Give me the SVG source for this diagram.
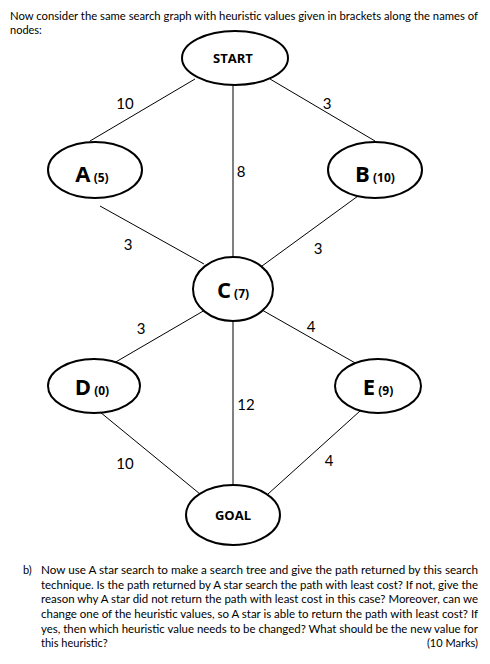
<svg xmlns="http://www.w3.org/2000/svg" width="490" height="664" viewBox="0 0 490 664">
<style>
text{font-family:Lato,"Open Sans","Liberation Sans",sans-serif;fill:#000}
.node ellipse{fill:#fff;stroke:#000;stroke-width:2}
.edges line{stroke:#000;stroke-width:1}
.node text{font-family:"Open Sans","Liberation Sans",sans-serif}
.big{font-size:22px;font-weight:bold}
.h{font-size:12px;font-weight:bold}
.nm{font-size:13px;font-weight:bold}
.w{font-size:15px}
.t{font-size:11px}
</style>
<rect width="490" height="664" fill="#fff"/>
<text class="t" x="10" y="20" textLength="468" lengthAdjust="spacingAndGlyphs">Now consider the same search graph with heuristic values given in brackets along the names of</text>
<text class="t" x="10" y="34">nodes:</text>
<g class="edges">
<line x1="195" y1="79" x2="90" y2="141"/>
<line x1="270" y1="79" x2="375" y2="141"/>
<line x1="233" y1="85" x2="233" y2="258"/>
<line x1="100" y1="206" x2="204" y2="264"/>
<line x1="358" y1="196" x2="262" y2="266"/>
<line x1="205" y1="310" x2="114" y2="363"/>
<line x1="262" y1="310" x2="357" y2="364"/>
<line x1="233" y1="321" x2="233" y2="485"/>
<line x1="100" y1="412" x2="200" y2="494"/>
<line x1="360" y1="411" x2="268" y2="494"/>
</g>
<g class="labels">
<text class="w" x="125" y="109" text-anchor="middle">10</text>
<text class="w" x="327" y="109" text-anchor="middle">3</text>
<text class="w" x="241" y="177" text-anchor="middle">8</text>
<text class="w" x="128" y="250" text-anchor="middle">3</text>
<text class="w" x="318" y="254" text-anchor="middle">3</text>
<text class="w" x="141" y="334" text-anchor="middle">3</text>
<text class="w" x="311" y="332" text-anchor="middle">4</text>
<text class="w" x="246" y="410" text-anchor="middle">12</text>
<text class="w" x="125" y="469" text-anchor="middle">10</text>
<text class="w" x="329" y="466" text-anchor="middle">4</text>
</g>
<g id="start" class="node"><ellipse cx="235" cy="58" rx="53" ry="27"/><text class="nm" x="233" y="63" text-anchor="middle">START</text></g>
<g id="a" class="node"><ellipse cx="95" cy="170" rx="47" ry="28"/><text x="92" y="182" text-anchor="middle"><tspan class="big">A</tspan><tspan class="h"> (5)</tspan></text></g>
<g id="b" class="node"><ellipse cx="375" cy="170" rx="47" ry="28"/><text x="375" y="182" text-anchor="middle"><tspan class="big">B</tspan><tspan class="h"> (10)</tspan></text></g>
<g id="c" class="node"><ellipse cx="233" cy="289" rx="40" ry="32"/><text x="233" y="298" text-anchor="middle"><tspan class="big">C</tspan><tspan class="h"> (7)</tspan></text></g>
<g id="d" class="node"><ellipse cx="94" cy="386" rx="46" ry="27"/><text x="92" y="395" text-anchor="middle"><tspan class="big">D</tspan><tspan class="h"> (0)</tspan></text></g>
<g id="e" class="node"><ellipse cx="378" cy="386" rx="43" ry="27"/><text x="378" y="395" text-anchor="middle"><tspan class="big">E</tspan><tspan class="h"> (9)</tspan></text></g>
<g id="goal" class="node"><ellipse cx="233" cy="515" rx="47" ry="30"/><text class="nm" x="233" y="520" text-anchor="middle">GOAL</text></g>
<g class="question">
<text class="t" x="23" y="574">b)</text>
<text class="t" x="41" y="574" textLength="437" lengthAdjust="spacingAndGlyphs">Now use A star search to make a search tree and give the path returned by this search</text>
<text class="t" x="41" y="589" textLength="437" lengthAdjust="spacingAndGlyphs">technique. Is the path returned by A star search the path with least cost? If not, give the</text>
<text class="t" x="41" y="603" textLength="437" lengthAdjust="spacingAndGlyphs">reason why A star did not return the path with least cost in this case? Moreover, can we</text>
<text class="t" x="41" y="618" textLength="437" lengthAdjust="spacingAndGlyphs">change one of the heuristic values, so A star is able to return the path with least cost? If</text>
<text class="t" x="41" y="633" textLength="437" lengthAdjust="spacingAndGlyphs">yes, then which heuristic value needs to be changed? What should be the new value for</text>
<text class="t" x="41" y="647">this heuristic?</text>
<text class="t" x="478" y="647" text-anchor="end">(10 Marks)</text>
</g>
</svg>
